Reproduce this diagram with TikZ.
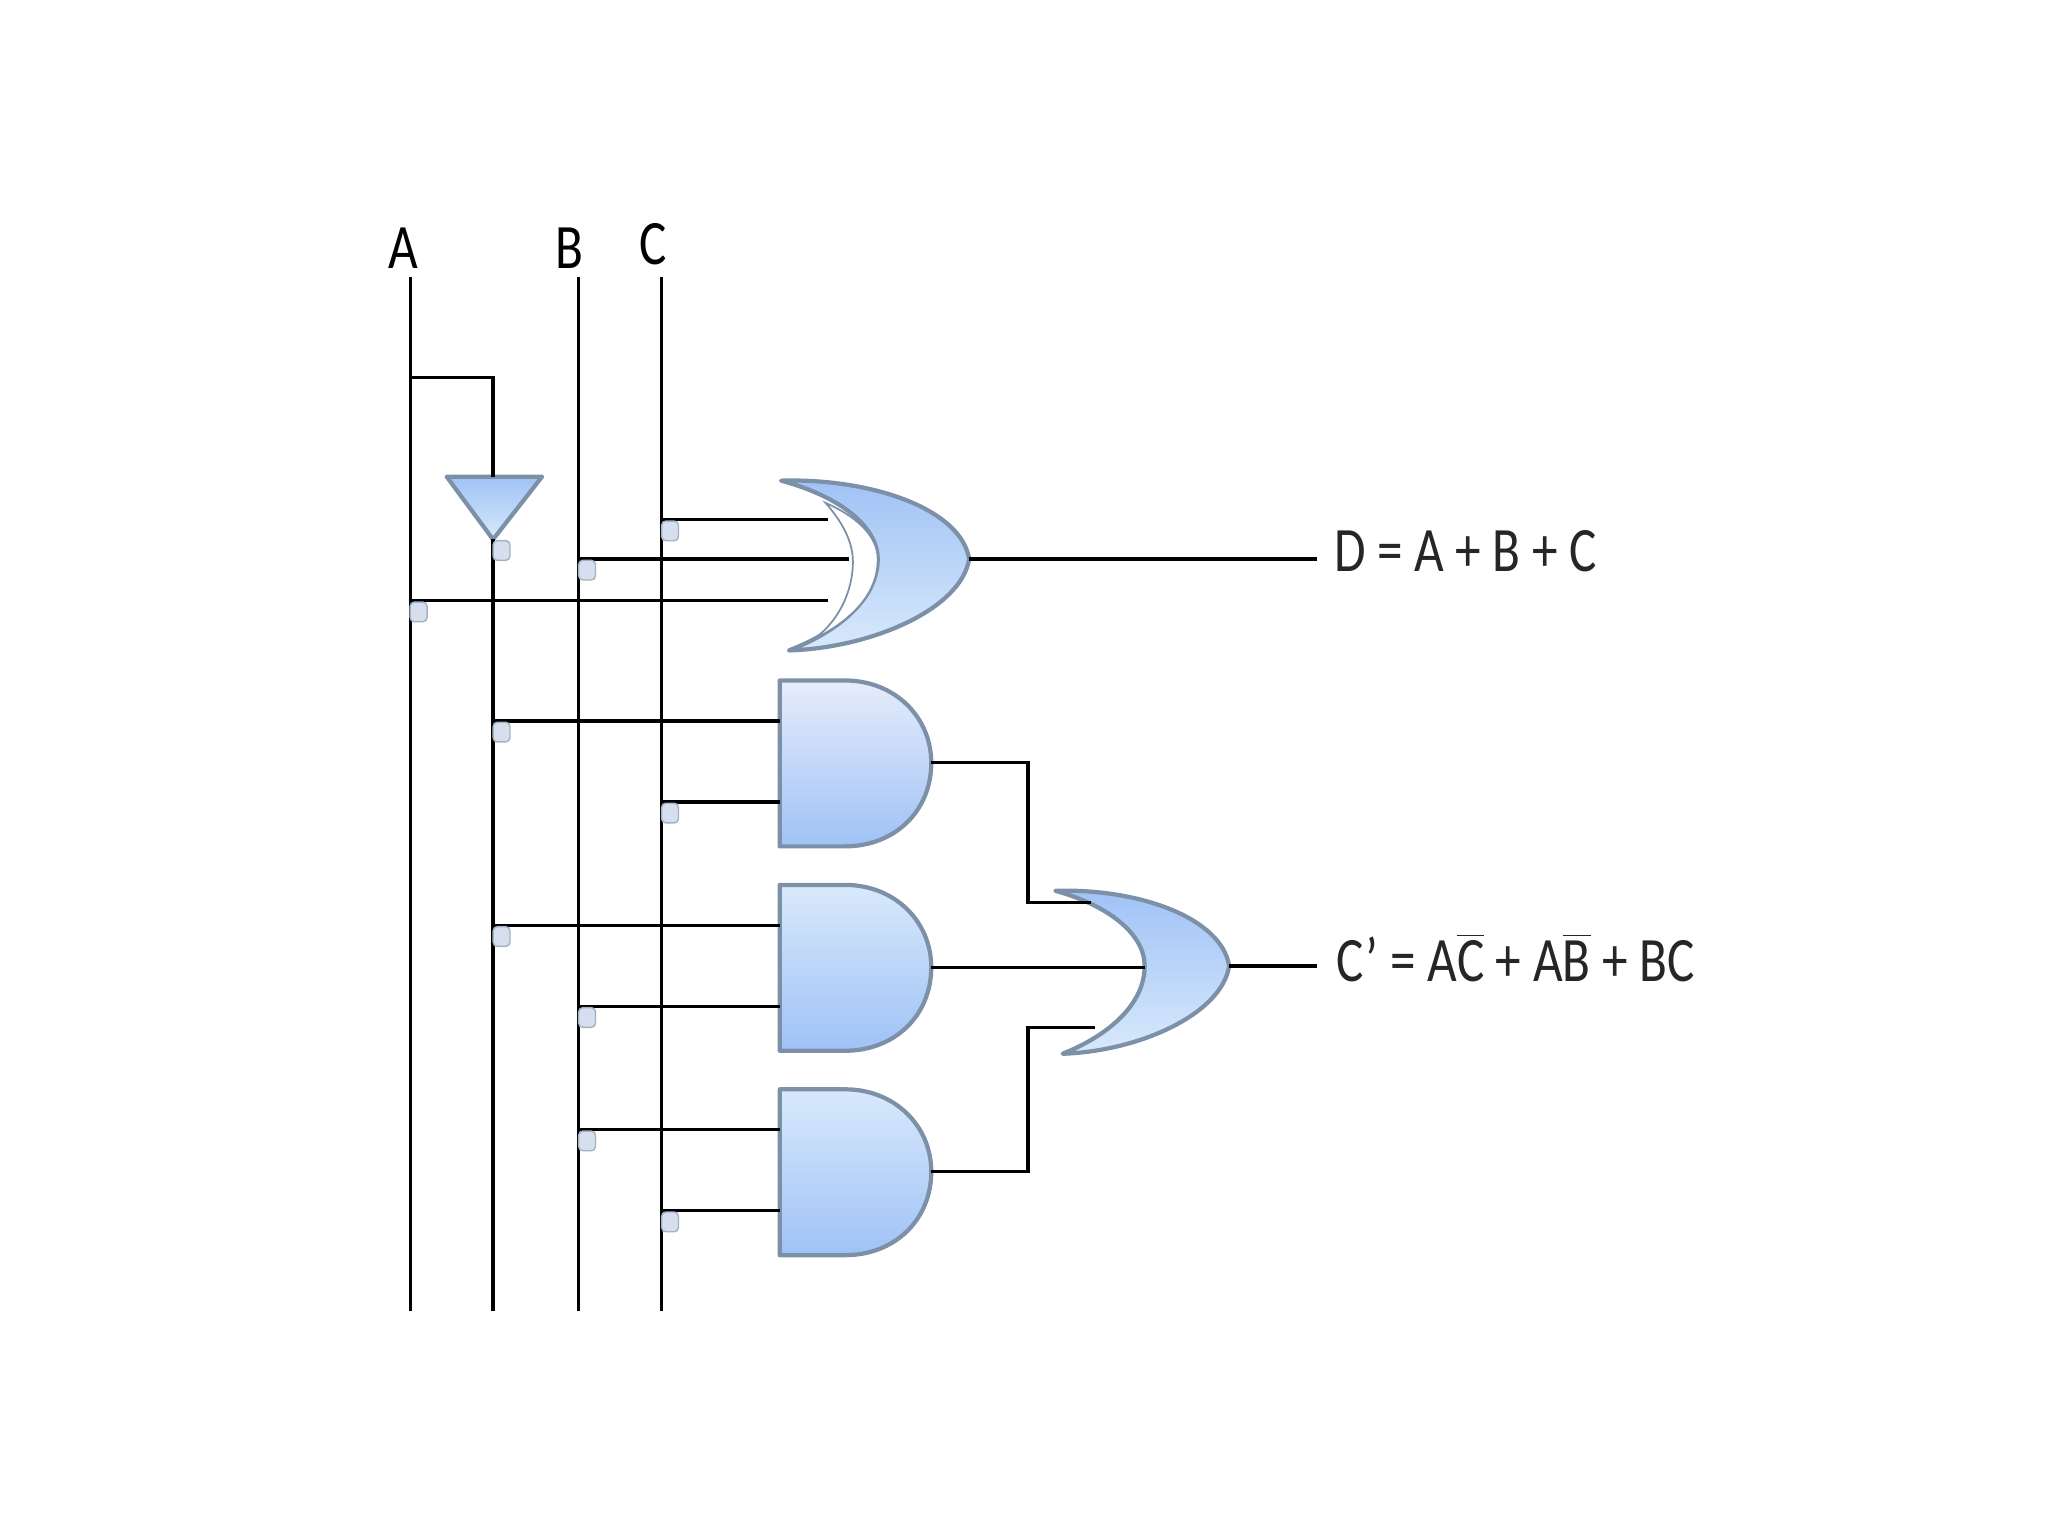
\documentclass[tikz,border=0pt]{standalone}
\usepackage{xcolor}
\usepackage{fontspec}
\setmainfont[FakeStretch=0.81]{Carlito}
\usepackage{tikz}

\definecolor{gateline}{HTML}{7C90A8}
\definecolor{palegate}{HTML}{E6ECFB}
\definecolor{skygate}{HTML}{D8E9FB}
\definecolor{bluegate}{HTML}{9FC2F6}
\definecolor{knobfill}{HTML}{D5DFEE}

\newcommand{\nega}[1]{$\overline{\mbox{#1}}$}

\begin{document}
\begin{tikzpicture}[x=0.01306cm,y=-0.01306cm]
	\tikzstyle{wire} = [draw, black, line width=0.9pt]
	\tikzstyle{gate} = [draw=gateline, line width=1.2pt, line join=round]
	\tikzstyle{knob} = [draw=gateline!70, line width=0.4pt, fill=knobfill, rounded corners=1.2pt, minimum width=4.8pt, minimum height=5.6pt, inner sep=0pt]
	\tikzstyle{busname} = [font=\fontsize{18}{20}\selectfont, inner sep=0pt]
	\tikzstyle{result} = [font=\fontsize{18}{20}\selectfont, anchor=west, inner sep=0pt, text=black!85]
	\tikzset{
		pics/andgate/.style 2 args = {code = {
			\path[gate, top color=#1, bottom color=#2] (0,0) -- (50,0) .. controls (88,0) and (116,28) .. (116,63)
				.. controls (116,100) and (88,127) .. (50,127) -- (0,127) -- cycle;
			\coordinate (-in1) at (0,31);
			\coordinate (-in2) at (0,93);
			\coordinate (-out) at (116,63);
		}},
		pics/orgate/.style = {code = {
			\path[gate, top color=bluegate, bottom color=skygate] (0,0) .. controls (70,-2) and (138,22) .. (144,60)
				.. controls (138,98) and (70,128) .. (6,130)
				.. controls (45,115) and (74,90) .. (74,60)
				.. controls (74,35) and (45,12) .. (0,0) -- cycle;
			\coordinate (-back) at (74,60);
			\coordinate (-out) at (144,60);
		}}
	}
	\useasboundingbox (0,0) rectangle (1568,1176);

	% bus lines
	\node[busname](nameA) at (309,190) {A};
	\node[busname](nameB) at (436,190) {B};
	\node[busname](nameC) at (500,187) {C};
	\coordinate (topA) at (314,212);
	\coordinate (topB) at (443,212);
	\coordinate (topC) at (506.5,212);
	\coordinate (botA) at (314,1004);
	\coordinate (botN) at (377.5,1004);
	\coordinate (botB) at (443,1004);
	\coordinate (botC) at (506.5,1004);

	% inverter
	\coordinate (invIn) at (377.5,365);
	\coordinate (invOut) at (377.5,413);
	\path[gate, top color=bluegate, bottom color=skygate] (342,365) -- (415,365) -- (invOut) -- cycle;

	% gates
	\pic (or1) at (598,368) {orgate};
	\path[draw=gateline, line width=0.5pt, fill=white] (632,385) .. controls (648,403) and (653,418) .. (653,430)
		.. controls (653,455) and (640,478) .. (622,490)
		.. controls (652,475) and (672,455) .. (672,428)
		.. controls (672,410) and (655,395) .. (632,385) -- cycle;
	\pic (and1) at (597,521) {andgate={palegate}{bluegate}};
	\pic (and2) at (597,677.5) {andgate={skygate}{bluegate}};
	\pic (and3) at (597,834) {andgate={skygate}{bluegate}};
	\pic[xscale=0.924, yscale=0.96] (or2) at (808,682) {orgate};

	% loose wire ends
	\coordinate (or1a) at (634,398);
	\coordinate (or1b) at (650,428);
	\coordinate (or1c) at (634,460);
	\coordinate (or2a) at (835,691);
	\coordinate (or2c) at (838,787);
	\coordinate (elbow) at (787,640);
	\coordinate (endD) at (1008,428);
	\coordinate (endC) at (1008,739.6);
	\coordinate (tapA) at (314,289);

	\draw[wire] (topA) -- (botA);
	\draw[wire] (topB) -- (botB);
	\draw[wire] (topC) -- (botC);
	\draw[wire] (invOut) -- (botN);
	\draw[wire] (tapA) -| (invIn);

	\foreach \pin/\bus in {or1a/topC, or1b/topB, or1c/topA, and1-in1/botN, and1-in2/topC, and2-in1/botN, and2-in2/topB, and3-in1/topB, and3-in2/topC}
		\draw[wire] (\pin) -- (\pin -| \bus);

	\draw[wire] (and1-out) -- (and1-out -| elbow) -- (elbow |- or2a) -- (or2a);
	\draw[wire] (and3-out) -- (and3-out -| elbow) -- (elbow |- or2c) -- (or2c);
	\draw[wire] (and2-out) -- (and2-out -| or2-back);
	\draw[wire] (or1-out) -- (endD);
	\draw[wire] (or2-out |- endC) -- (endC);

	% taps
	\foreach \name/\pin/\bus in {tap1/invOut/botN, tap2/or1a/topC, tap3/or1b/topB, tap4/or1c/topA, tap5/and1-in1/botN, tap6/and1-in2/topC, tap7/and2-in1/botN, tap8/and2-in2/topB, tap9/and3-in1/topB, tap10/and3-in2/topC}
		\node[knob](\name) at ([shift={(6.5,8.5)}]\pin -| \bus) {};

	\node[result](exprD) at (1021,422) {D = A + B + C};
	\node[result](exprC) at (1023,733) {C\kern.5pt’ = A\nega{C} + A\nega{B} + BC};
\end{tikzpicture}
\end{document}
